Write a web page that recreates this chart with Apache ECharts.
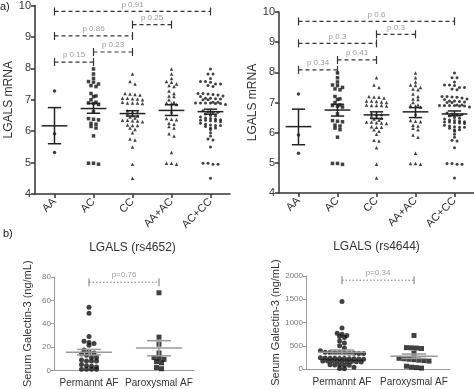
<!DOCTYPE html>
<html><head><meta charset="utf-8">
<script src="https://cdn.jsdelivr.net/npm/echarts@6/dist/echarts.min.js"></script>
<style>html,body{margin:0;padding:0;background:#fff}#c{width:474px;height:389px}</style>
</head><body><div id="c"></div>
<script>
// ---------- DATA ----------
const genoCats = ['AA', 'AC', 'CC', 'AA+AC', 'AC+CC'];
const afCats = ['Permannt AF', 'Paroxysmal AF'];

// LGALS mRNA by rs4652 genotype
const rs4652_AA = [7.28, 5.92, 5.32];
const rs4652_AC = [7.98, 7.82, 7.68, 7.58, 7.56, 7.5, 7.45, 7.42, 7.2, 7.12, 7.1, 7.0, 6.92, 6.9, 6.88, 6.85, 6.62, 6.4, 6.38, 6.36, 6.25, 6.22, 6.15, 6.1, 5.85, 4.98, 4.98, 4.95];
const rs4652_CC = [7.82, 7.58, 7.5, 7.2, 7.18, 7.17, 7.15, 7.05, 7.05, 7.03, 7.02, 7.0, 6.92, 6.9, 6.9, 6.88, 6.9, 6.65, 6.6, 6.6, 6.55, 6.5, 6.48, 6.45, 6.42, 6.35, 6.35, 6.33, 6.32, 6.3, 6.2, 6.18, 6.18, 6.1, 6.05, 5.95, 5.75, 5.72, 5.5, 4.95, 4.5];
const rs4652_AAAC = rs4652_AA.concat(rs4652_AC);
const rs4652_ACCC = rs4652_AC.concat(rs4652_CC);
const rs4652_mean = [6.17, 6.72, 6.56, 6.66, 6.62];
const rs4652_semLo = [5.6, 6.57, 6.48, 6.5, 6.54];
const rs4652_semHi = [6.75, 6.88, 6.65, 6.84, 6.7];
const rs4652_brFrom = [0, 0, 2, 1, 0];
const rs4652_brTo = [4, 2, 3, 2, 1];
const rs4652_brY = [9.81, 9.03, 9.39, 8.52, 8.2];
const rs4652_brLabel = ['p 0.91', 'p 0.86', 'p 0.25', 'p 0.23', 'p 0.15'];

// LGALS mRNA by rs4644 genotype
const rs4644_AA = [7.28, 5.92, 5.32];
const rs4644_AC = [7.98, 7.82, 7.68, 7.58, 7.56, 7.5, 7.45, 7.42, 7.2, 7.12, 7.1, 7.0, 6.92, 6.9, 6.88, 6.85, 6.62, 6.4, 6.38, 6.36, 6.25, 6.22, 6.15, 6.1, 5.85, 4.98, 4.98, 4.95];
const rs4644_CC = [7.82, 7.58, 7.5, 7.2, 7.18, 7.17, 7.15, 7.05, 7.05, 7.03, 7.02, 7.0, 6.92, 6.9, 6.9, 6.88, 6.9, 6.65, 6.6, 6.6, 6.55, 6.5, 6.48, 6.45, 6.42, 6.35, 6.35, 6.33, 6.32, 6.3, 6.2, 6.18, 6.18, 6.1, 6.05, 5.95, 5.75, 5.72, 5.5, 4.95, 4.5];
const rs4644_AAAC = rs4644_AA.concat(rs4644_AC);
const rs4644_ACCC = rs4644_AC.concat(rs4644_CC);
const rs4644_mean = [6.2, 6.75, 6.59, 6.69, 6.62];
const rs4644_semLo = [5.6, 6.55, 6.47, 6.5, 6.56];
const rs4644_semHi = [6.78, 6.94, 6.69, 6.83, 6.72];
const rs4644_brFrom = [0, 0, 2, 1, 0];
const rs4644_brTo = [4, 2, 3, 2, 1];
const rs4644_brY = [9.69, 8.96, 9.26, 8.41, 8.08];
const rs4644_brLabel = ['p 0.6', 'p 0.3', 'p 0.3', 'p 0.41', 'p 0.34'];

// Serum Galectin-3 (ng/mL), panel b left
const gal1_perm = [54, 49, 29, 25, 24, 23, 21.5, 17.5, 16, 15, 14, 13, 11, 11, 9, 8, 8, 8, 5, 4, 3.5, 3, 1, 1, 1, 1];
const gal1_parox = [66.5, 28.5, 22.5, 15, 11, 10.5, 9.5, 7.5, 6.5, 2.5, 1.5];
const gal1_mean = [15.6, 19.3];
const gal1_semLo = [13.3, 12.5];
const gal1_semHi = [18, 25.5];
const gal1_brFrom = [0], gal1_brTo = [1], gal1_brY = [75.5], gal1_brLabel = ['p=0.76'];

// Serum Galectin-3 (ng/mL), panel b right
const gal2_perm = [1450, 880, 770, 750, 720, 700, 680, 600, 560, 500, 450, 390, 360, 355, 350, 350, 345, 340, 340, 335, 335, 240, 235, 230, 230, 225, 225, 220, 220, 215, 210, 170, 170, 170, 165, 165, 160, 160, 155, 150, 90, 85, 85, 80, 80, 40, 10, 5];
const gal2_parox = [720, 460, 455, 450, 440, 340, 230, 220, 210, 200, 190, 180, 170, 60, 40, 30, 20];
const gal2_mean = [360, 275];
const gal2_semLo = [312, 228];
const gal2_semHi = [408, 322];
const gal2_brFrom = [0], gal2_brTo = [1], gal2_brY = [1910], gal2_brLabel = ['p=0.34'];

// ---------- LAYOUT ----------
const FONT = 'Liberation Sans, Arial, sans-serif';
const grids = [
  {left: 35, top: 5, width: 195, height: 189},
  {left: 279, top: 12, width: 195, height: 181},
  {left: 54, top: 277, width: 140, height: 94},
  {left: 306, top: 276, width: 144, height: 93}
];
const yRanges = [[4, 10, 1], [4, 10, 1], [0, 80, 20], [0, 2000, 500]];

function swarm(values, gi, rowPx, stepPx) {
  const g = grids[gi], r = yRanges[gi];
  const pxY = g.height / (r[1] - r[0]);
  const nCat = gi < 2 ? 5 : 2;
  const pxX = g.width / nCat;
  const order = values.map((v, i) => i).sort((a, b) => values[b] - values[a]);
  const out = new Array(values.length);
  let row = [], top = null;
  const flush = () => { row.forEach((i, j) => { out[i] = (j - (row.length - 1) / 2) * stepPx / pxX; }); row = []; };
  for (const i of order) {
    if (row.length && (values[top] - values[i]) * pxY > rowPx) flush();
    if (!row.length) top = i;
    row.push(i);
  }
  flush();
  return out;
}

function scatterSeries(values, catIdx, gi, symbol, size, rowPx, stepPx) {
  const off = swarm(values, gi, rowPx, stepPx);
  return {
    type: 'scatter', xAxisIndex: gi * 2 + 1, yAxisIndex: gi,
    symbol: symbol, symbolSize: size, silent: true,
    itemStyle: {color: '#111'},
    data: values.map((v, i) => [catIdx + off[i], v]),
    z: 3
  };
}

function meanSeries(gi, mean, lo, hi, color, lw) {
  return {
    type: 'custom', xAxisIndex: gi * 2 + 1, yAxisIndex: gi, silent: true, z: 5,
    data: mean.map((m, i) => [i, m, lo[i], hi[i]]),
    renderItem: function (params, api) {
      const x = api.value(0);
      const pm = api.coord([x, api.value(1)]);
      const pl = api.coord([x, api.value(2)]);
      const ph = api.coord([x, api.value(3)]);
      const bw = api.size([1, 0])[0];
      const hm = bw * 0.33, hc = bw * 0.17;
      const st = {stroke: color, lineWidth: lw};
      return {type: 'group', children: [
        {type: 'line', shape: {x1: pm[0] - hm, y1: pm[1], x2: pm[0] + hm, y2: pm[1]}, style: st},
        {type: 'line', shape: {x1: pl[0], y1: pl[1], x2: ph[0], y2: ph[1]}, style: st},
        {type: 'line', shape: {x1: pl[0] - hc, y1: pl[1], x2: pl[0] + hc, y2: pl[1]}, style: st},
        {type: 'line', shape: {x1: ph[0] - hc, y1: ph[1], x2: ph[0] + hc, y2: ph[1]}, style: st}
      ]};
    }
  };
}

function bracketSeries(gi, from, to, y, labels, o) {
  return {
    type: 'custom', xAxisIndex: gi * 2 + 1, yAxisIndex: gi, silent: true, z: 4,
    data: from.map((f, i) => [f, to[i], y[i]]),
    renderItem: function (params, api) {
      const a = api.coord([api.value(0), api.value(2)]);
      const b = api.coord([api.value(1), api.value(2)]);
      const t = o.tick;
      return {type: 'group', children: [
        {type: 'line', shape: {x1: a[0], y1: a[1], x2: b[0], y2: b[1]}, style: {stroke: o.color, lineWidth: o.lw, lineDash: o.dash}},
        {type: 'line', shape: {x1: a[0], y1: a[1] - t, x2: a[0], y2: a[1] + t}, style: {stroke: o.color, lineWidth: o.lw}},
        {type: 'line', shape: {x1: b[0], y1: b[1] - t, x2: b[0], y2: b[1] + t}, style: {stroke: o.color, lineWidth: o.lw}},
        {type: 'text', x: (a[0] + b[0]) / 2, y: a[1] - 3,
         style: {text: labels[params.dataIndex], fill: o.textColor, font: o.fontSize + 'px ' + FONT, textAlign: 'center', textVerticalAlign: 'bottom'}}
      ]};
    }
  };
}

const topAxisColor = '#333', botAxisColor = '#9a9a9a';
const xAxes = [], yAxes = [];
grids.forEach((g, gi) => {
  const top = gi < 2;
  const cats = top ? genoCats : afCats;
  xAxes.push({
    type: 'category', gridIndex: gi, data: cats,
    axisLine: {onZero: false, lineStyle: {color: top ? topAxisColor : botAxisColor, width: top ? 1.5 : 1}},
    axisTick: {show: top, alignWithLabel: true, length: 4, lineStyle: {color: topAxisColor, width: 1.5}},
    axisLabel: top ? {rotate: 45, fontSize: 11, color: '#333', margin: 6, fontFamily: FONT, interval: 0}
                   : {fontSize: 10, color: '#333', margin: 8, fontFamily: FONT, interval: 0},
    name: top ? (gi === 0 ? 'LGALS (rs4652)' : 'LGALS (rs4644)') : '',
    nameLocation: 'middle', nameGap: 48,
    nameTextStyle: {fontSize: 12, color: '#333', fontFamily: FONT}
  });
  xAxes.push({type: 'value', gridIndex: gi, min: -0.5, max: cats.length - 0.5, show: false});
  const r = yRanges[gi];
  yAxes.push({
    type: 'value', gridIndex: gi, min: r[0], max: r[1], interval: r[2],
    splitLine: {show: false},
    axisLine: {show: true, onZero: false, lineStyle: {color: top ? topAxisColor : botAxisColor, width: top ? 1.5 : 1}},
    axisTick: {show: true, length: top ? 4 : 3, lineStyle: {color: top ? topAxisColor : botAxisColor, width: top ? 1.5 : 1}},
    axisLabel: top ? {fontSize: 11, color: '#333', margin: 4, fontFamily: FONT}
                   : {fontSize: 8, color: '#777', margin: 3, fontFamily: FONT, formatter: v => String(v)},
    name: top ? 'LGALS mRNA' : 'Serum Galectin-3 (ng/mL)',
    nameLocation: 'middle', nameGap: top ? 20 : 21,
    nameTextStyle: {fontSize: top ? 12 : 11, color: '#333', fontFamily: FONT}
  });
});

const topBr = {tick: 4, color: '#333', lw: 1.2, dash: [4, 3], textColor: '#9a9a9a', fontSize: 8};
const botBr = {tick: 4, color: '#777', lw: 1, dash: [1.5, 2], textColor: '#9a9a9a', fontSize: 8};

const series = [];
[[rs4652_AA, rs4652_AC, rs4652_CC, rs4652_AAAC, rs4652_ACCC], [rs4644_AA, rs4644_AC, rs4644_CC, rs4644_AAAC, rs4644_ACCC]].forEach((groups, gi) => {
  const syms = ['circle', 'rect', 'triangle', 'triangle', 'circle'];
  const sizes = [3.5, 3.5, 3.5, 3.5, 3];
  groups.forEach((vals, ci) => series.push(scatterSeries(vals, ci, gi, syms[ci], sizes[ci], 3, 5)));
});
series.push(meanSeries(0, rs4652_mean, rs4652_semLo, rs4652_semHi, '#222', 1.5));
series.push(meanSeries(1, rs4644_mean, rs4644_semLo, rs4644_semHi, '#222', 1.5));
series.push(bracketSeries(0, rs4652_brFrom, rs4652_brTo, rs4652_brY, rs4652_brLabel, topBr));
series.push(bracketSeries(1, rs4644_brFrom, rs4644_brTo, rs4644_brY, rs4644_brLabel, topBr));

series.push(scatterSeries(gal1_perm, 0, 2, 'circle', 5, 4, 5));
series.push(scatterSeries(gal1_parox, 1, 2, 'rect', 5, 4, 5));
series.push(scatterSeries(gal2_perm, 0, 3, 'circle', 5, 3, 4.8));
series.push(scatterSeries(gal2_parox, 1, 3, 'rect', 5, 3, 5));
series.push(meanSeries(2, gal1_mean, gal1_semLo, gal1_semHi, '#999', 1.5));
series.push(meanSeries(3, gal2_mean, gal2_semLo, gal2_semHi, '#999', 1.5));
series.push(bracketSeries(2, gal1_brFrom, gal1_brTo, gal1_brY, gal1_brLabel, botBr));
series.push(bracketSeries(3, gal2_brFrom, gal2_brTo, gal2_brY, gal2_brLabel, botBr));

const chart = echarts.init(document.getElementById('c'), null, {renderer: 'canvas'});
chart.setOption({
  animation: false,
  backgroundColor: '#fff',
  textStyle: {fontFamily: FONT},
  grid: grids.map(g => Object.assign({containLabel: false}, g)),
  xAxis: xAxes,
  yAxis: yAxes,
  series: series,
  graphic: [
    {type: 'text', left: 0, top: 1, style: {text: 'a)', font: '11px ' + FONT, fill: '#222'}},
    {type: 'text', left: 3, top: 228, style: {text: 'b)', font: '11px ' + FONT, fill: '#222'}}
  ]
});
</script>
</body></html>
